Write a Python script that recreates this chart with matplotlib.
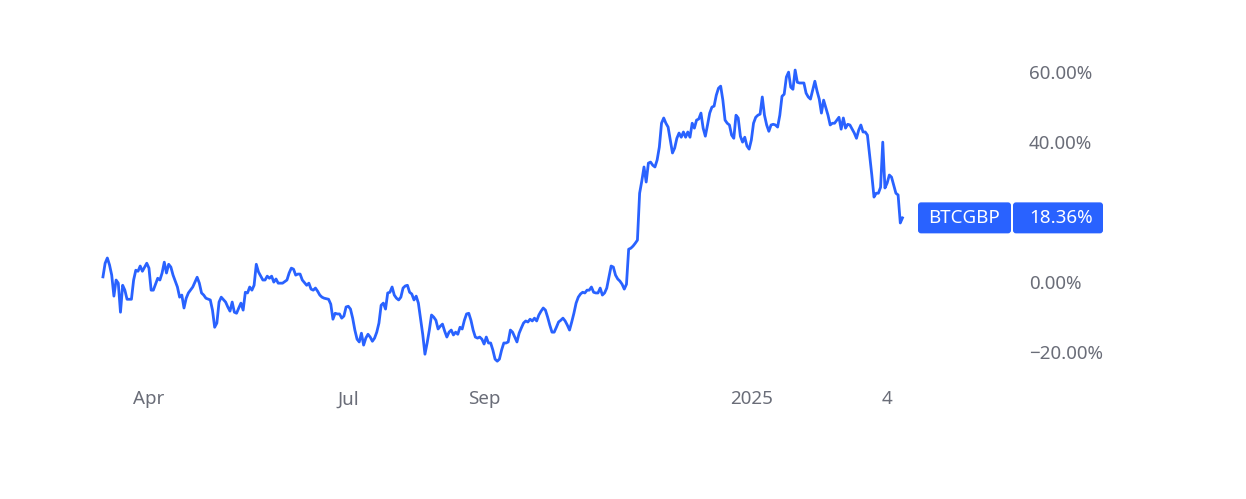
import numpy as np
import pandas as pd
import matplotlib
matplotlib.use("Agg")
import matplotlib.pyplot as plt
import matplotlib.dates as mdates
from matplotlib.patches import FancyBboxPatch

plt.rcParams['font.family'] = ['Noto Sans', 'DejaVu Sans']

# days counted from 1 Apr 2024, % change of BTCGBP
day_offset = [
    -21, -20, -19, -18, -17, -16, -15, -14, -13, -12, -11, -10, -8, -7, -6, -5, -4, -3, -1, 0,
    1, 2, 4, 5, 6, 7, 8, 9, 10, 11, 13, 14, 15, 16, 17, 18, 20, 22, 23, 24,
    25, 26, 28, 29, 30, 31, 32, 33, 35, 36, 37, 38, 39, 40, 41, 42, 43, 44, 45, 46,
    47, 48, 49, 50, 52, 53, 54, 55, 56, 57, 58, 59, 60, 61, 63, 64, 65, 66, 67, 68,
    69, 70, 72, 73, 74, 75, 76, 77, 78, 79, 80, 82, 83, 84, 85, 86, 87, 88, 89, 90,
    91, 92, 93, 94, 95, 96, 97, 98, 99, 100, 101, 102, 103, 104, 105, 106, 107, 108, 109, 110,
    111, 112, 113, 114, 115, 116, 117, 118, 119, 120, 121, 122, 123, 124, 125, 126, 127, 128, 129, 130,
    131, 132, 133, 134, 135, 136, 137, 138, 139, 140, 141, 142, 143, 144, 145, 146, 147, 148, 149, 150,
    151, 152, 153, 154, 155, 156, 157, 158, 159, 160, 161, 162, 163, 164, 165, 166, 167, 168, 169, 170,
    171, 172, 173, 174, 175, 176, 177, 178, 179, 180, 181, 182, 183, 184, 185, 186, 187, 188, 189, 190,
    191, 192, 193, 194, 195, 196, 197, 198, 199, 200, 201, 202, 203, 204, 205, 206, 207, 208, 209, 210,
    211, 212, 213, 214, 215, 216, 217, 218, 219, 220, 221, 222, 223, 224, 225, 226, 227, 228, 229, 230,
    231, 232, 233, 234, 235, 236, 237, 238, 239, 240, 241, 242, 243, 244, 245, 246, 247, 248, 249, 250,
    251, 252, 253, 254, 255, 256, 257, 258, 259, 260, 261, 262, 263, 264, 265, 266, 267, 268, 269, 270,
    271, 272, 273, 274, 275, 276, 277, 278, 279, 280, 281, 282, 283, 284, 285, 286, 287, 288, 289, 290,
    291, 292, 293, 294, 295, 296, 297, 299, 300, 301, 302, 304, 305, 306, 307, 308, 310, 311, 312, 313,
    315, 316, 317, 318, 319, 320, 322, 323, 324, 325, 326, 327, 328, 329, 330, 331, 332, 333, 334, 335,
    336, 337, 338, 339, 340, 341, 342, 343, 344,
]
pct_change = [
    1.5, 5.4, 6.9, 4.9, 2.0, -4.0, 0.6, -0.3, -8.6, -0.9, -2.3, -4.9, -4.9, 0.6, 3.4, 3.1, 4.6, 3.1, 5.4, 4.0,
    -2.3, -2.3, 1.1, 0.6, 2.6, 5.7, 2.6, 5.1, 4.3, 2.0, -1.4, -4.3, -3.7, -7.4, -4.6, -3.1, -1.4, 1.4, -0.3, -3.1,
    -3.7, -4.6, -5.1, -8.0, -12.9, -11.7, -5.7, -4.3, -5.7, -7.1, -8.3, -5.7, -8.6, -8.9, -7.4, -6.0, -8.0, -2.9, -3.1, -1.4,
    -2.3, -0.9, 5.1, 2.9, 0.6, 0.6, 1.7, 1.1, 1.7, 0.0, 0.9, -0.3, -0.3, -0.3, 0.6, 2.6, 4.0, 3.7, 2.0, 2.3,
    2.3, 0.6, -0.9, -0.3, -2.0, -2.3, -1.7, -2.6, -3.7, -4.3, -4.6, -4.9, -6.3, -10.6, -8.9, -9.1, -9.1, -10.3, -9.7, -7.1,
    -6.9, -7.7, -10.3, -13.7, -16.3, -17.1, -14.6, -18.0, -16.0, -14.9, -15.7, -16.9, -16.0, -14.3, -11.7, -6.6, -6.0, -7.7, -3.1, -2.9,
    -1.4, -3.7, -4.6, -5.1, -4.3, -1.7, -1.1, -0.9, -2.9, -3.4, -5.1, -4.0, -6.0, -10.6, -15.0, -20.6, -17.4, -13.7, -9.4, -10.0,
    -10.9, -13.4, -12.6, -12.0, -14.0, -15.7, -14.3, -13.7, -15.1, -14.3, -14.9, -12.9, -13.4, -10.9, -9.1, -8.9, -10.9, -13.7, -15.7, -16.0,
    -15.7, -16.3, -17.7, -15.7, -17.4, -17.4, -19.4, -22.0, -22.6, -22.0, -19.4, -17.4, -17.4, -17.1, -13.7, -14.3, -15.7, -17.1, -14.6, -13.1,
    -11.7, -11.1, -11.4, -10.6, -11.1, -10.3, -11.1, -9.4, -8.3, -7.4, -8.0, -10.0, -12.3, -14.3, -14.3, -12.9, -11.4, -10.9, -10.3, -11.1,
    -12.3, -13.7, -11.4, -8.9, -6.0, -4.3, -3.4, -2.9, -3.1, -2.3, -2.3, -1.4, -2.9, -3.1, -3.1, -1.7, -3.7, -3.1, -1.7, 1.4,
    4.6, 4.3, 2.0, 0.9, 0.3, -0.6, -2.0, -0.6, 9.4, 9.7, 10.3, 11.1, 12.0, 25.4, 28.9, 32.9, 28.6, 34.0, 34.3, 33.4,
    32.9, 34.9, 38.6, 45.4, 46.9, 45.4, 44.3, 40.6, 36.9, 38.3, 41.1, 42.6, 41.4, 42.9, 41.4, 42.9, 41.4, 45.4, 44.0, 46.3,
    46.6, 48.3, 44.0, 41.7, 44.9, 48.3, 50.0, 50.3, 53.4, 55.4, 56.0, 52.0, 46.3, 45.4, 44.9, 42.0, 41.1, 47.7, 46.9, 41.7,
    40.0, 41.4, 38.9, 38.0, 40.6, 45.4, 47.1, 47.7, 48.0, 52.9, 47.7, 44.9, 43.1, 44.9, 45.1, 44.9, 44.3, 47.7, 53.1, 53.7,
    58.6, 60.0, 55.7, 55.1, 60.6, 57.1, 56.9, 56.9, 54.0, 52.9, 52.3, 57.4, 54.6, 52.3, 48.3, 52.0, 47.7, 44.9, 45.4, 45.4,
    47.1, 43.7, 46.9, 44.0, 45.1, 44.9, 42.6, 41.1, 43.4, 44.9, 42.9, 42.9, 42.0, 36.3, 30.6, 24.3, 25.4, 25.4, 27.1, 40.0,
    26.9, 28.3, 30.6, 30.0, 27.7, 25.4, 24.9, 16.9, 18.36,
]

symbol = "BTCGBP"
ytick_vals = [-20, 0, 40, 60]
ytick_text = ["\u221220.00%", "0.00%", "40.00%", "60.00%"]
xtick_dates = ["2024-04-01", "2024-07-01", "2024-09-01", "2025-01-01", "2025-03-04"]
xtick_text = ["Apr", "Jul", "Sep", "2025", "4"]

base = pd.Timestamp("2024-04-01")
dates = base + pd.to_timedelta(day_offset, unit="D")

blue = "#2962FF"
grey = "#6a6d78"

W, H = 1246, 499
fig = plt.figure(figsize=(W / 100, H / 100), dpi=100)
ax = fig.add_axes([0, 121 / H, 1012 / W, 358 / H])

ax.plot(dates, pct_change, color=blue, lw=2.0, solid_joinstyle="round")

ax.set_xlim(base - pd.Timedelta(days=68), base + pd.Timedelta(days=394))
ax.set_ylim(-27.4, 74.9)

for s in ax.spines.values():
    s.set_visible(False)

ax.yaxis.tick_right()
ax.set_yticks(ytick_vals)
ax.set_yticklabels(ytick_text)
ax.set_xticks([pd.Timestamp(d) for d in xtick_dates])
ax.set_xticklabels(xtick_text)
ax.tick_params(axis="y", length=0, pad=12, labelsize=13.5, labelcolor=grey)
ax.tick_params(axis="x", length=0, pad=9, labelsize=13.5, labelcolor=grey)

# last value label, name box inside the plot and value box on the price scale
fig.canvas.draw()
last = pct_change[-1]
ypix = ax.transData.transform((mdates.date2num(dates[-1]), last))[1]
right = ax.transAxes.transform((1, 0))[0]
bh = 31
name_box = FancyBboxPatch((right - 94, ypix - bh / 2), 93, bh,
                          boxstyle="round,pad=0,rounding_size=3",
                          fc=blue, ec="none", transform=None, figure=fig)
val_box = FancyBboxPatch((right + 1, ypix - bh / 2), 90, bh,
                         boxstyle="round,pad=0,rounding_size=3",
                         fc=blue, ec="none", transform=None, figure=fig)
fig.patches.extend([name_box, val_box])
fig.text((right - 47.5) / W, ypix / H, symbol, color="white", fontsize=13.5,
         fontweight="bold", ha="center", va="center")
fig.text((right + 17) / W, ypix / H, "%.2f%%" % last, color="white", fontsize=13.5,
         fontweight="bold", ha="left", va="center")

fig.savefig("out.png", dpi=100)
